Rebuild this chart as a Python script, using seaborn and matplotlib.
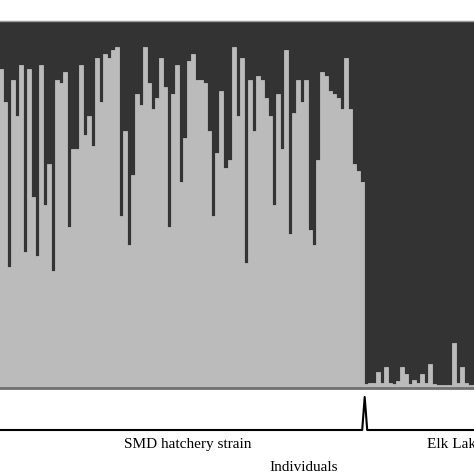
import numpy as np
import pandas as pd
import matplotlib
matplotlib.use("Agg")
import matplotlib.pyplot as plt
from matplotlib.lines import Line2D
import seaborn as sns

# proportion of membership in the "hatchery" cluster (light gray), one value per individual
smd_q = [0.87, 0.78, 0.33, 0.84, 0.74, 0.88, 0.37, 0.87, 0.52, 0.36,
         0.88, 0.50, 0.61, 0.32, 0.84, 0.83, 0.86, 0.44, 0.65, 0.65,
         0.88, 0.69, 0.74, 0.66, 0.90, 0.78, 0.91, 0.90, 0.92, 0.93,
         0.47, 0.70, 0.39, 0.58, 0.80, 0.77, 0.93, 0.83, 0.76, 0.79,
         0.90, 0.82, 0.44, 0.80, 0.88, 0.56, 0.68, 0.89, 0.91, 0.84,
         0.84, 0.83, 0.70, 0.47, 0.64, 0.81, 0.60, 0.62, 0.93, 0.74,
         0.90, 0.34, 0.84, 0.70, 0.85, 0.84, 0.79, 0.74, 0.50, 0.80,
         0.65, 0.92, 0.42, 0.75, 0.84, 0.78, 0.84, 0.43, 0.39, 0.62,
         0.86, 0.85, 0.81, 0.80, 0.79, 0.76, 0.90, 0.76, 0.61, 0.59,
         0.56]
elk_q = [0.011, 0.013, 0.013, 0.043, 0.015, 0.056, 0.013, 0.011, 0.020, 0.056,
         0.038, 0.011, 0.022, 0.015, 0.038, 0.015, 0.065, 0.011, 0.008, 0.008,
         0.008, 0.008, 0.124, 0.015, 0.056, 0.013, 0.009, 0.009]

groups = ["SMD hatchery strain", "Elk Lake"]
x_label = "Individuals"

light = "#bbbbbb"
dark = "#333333"

q = smd_q + elk_q
df = pd.DataFrame({
    "ind": np.arange(len(q)),
    "q": q,
    "total": 1.0,
    "pop": [groups[0]] * len(smd_q) + [groups[1]] * len(elk_q),
})

plt.rcParams["font.family"] = ["Liberation Serif", "DejaVu Serif"]

fig = plt.figure(figsize=(4.74, 4.74), dpi=100)
ax = fig.add_axes([0.0, 0.1814, 1.0, 0.7743])

sns.barplot(data=df, x="ind", y="total", native_scale=True, width=1,
            color=dark, saturation=1, errorbar=None,
            edgecolor=dark, linewidth=0.6, ax=ax)
sns.barplot(data=df, x="ind", y="q", native_scale=True, width=1,
            color=light, saturation=1, errorbar=None,
            edgecolor=light, linewidth=0.6, ax=ax)

ax.set_xlim(-0.17, 117.9)
ax.set_ylim(0, 1)
ax.set_xticks([])
ax.set_yticks([])
ax.set_xlabel("")
ax.set_ylabel("")
for side in ["left", "right"]:
    ax.spines[side].set_visible(False)
ax.spines["top"].set_color("#9a9a9a")
ax.spines["top"].set_linewidth(1.0)
ax.spines["bottom"].set_color("#707070")
ax.spines["bottom"].set_linewidth(2.0)

# bracket under the plot, with a peak at the population boundary
y0 = 1 - 430 / 474
ytop = 1 - 397 / 474
xb = 364.7 / 474
dx = 2.5 / 474
fig.add_artist(Line2D([0, xb - dx, xb, xb + dx, 1], [y0, y0, ytop, y0, y0],
                      color="black", lw=1.5, transform=fig.transFigure))

fig.text(188 / 474, 1 - 448 / 474, groups[0], ha="center", va="baseline", fontsize=11)
fig.text(427 / 474, 1 - 448 / 474, groups[1], ha="left", va="baseline", fontsize=11)
fig.text(304 / 474, 1 - 471 / 474, x_label, ha="center", va="baseline", fontsize=11)

fig.savefig("out.png", dpi=100)
